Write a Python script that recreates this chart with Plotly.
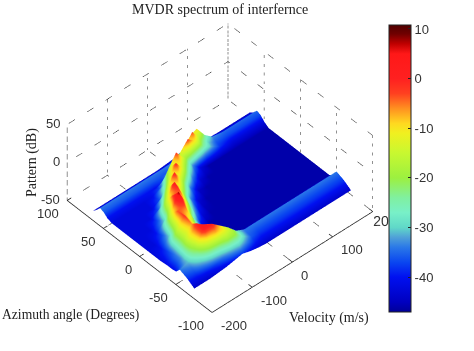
import plotly.graph_objects as go

velocity = [-190,-170,-150,-130,-110,-90,-70,-50,-30,-10,10,30,50,70,90,120,160,200]
azimuth = [70,65,60,55,50,44,33,24,13,5,-4,-13,-23,-33,-40,-45,-50,-55,-60,-65,-70]
pattern_db = [
 [-45,-45,-45,-45,-45,-45,-45,-45,-45,-44,-43,-40,-30,-38,-44,-45,-45,-45],
 [-40,-40,-40,-40,-40,-40,-40,-40,-40,-40,-37,-30,-18,-27,-38,-41,-41,-41],
 [-34,-34,-34,-34,-34,-34,-34,-34,-34,-33,-29,-16,-9,-24,-33,-35,-35,-35],
 [-36,-36,-36,-36,-36,-36,-36,-36,-36,-31,-17,-3,-19,-30,-36,-37,-37,-37],
 [-40,-40,-40,-40,-40,-40,-40,-38,-28,-14,-2,-12,-25,-32,-38,-42,-42,-42],
 [-42,-42,-42,-42,-42,-41,-36,-18,-2,-16,-32,-42,-46,-46,-46,-46,-46,-46],
 [-42,-42,-42,-42,-42,-36,-18,-1,-17,-33,-43,-46,-46,-46,-46,-46,-46,-46],
 [-42,-42,-42,-42,-36,-18,0,-18,-34,-44,-46,-46,-46,-46,-46,-46,-46,-46],
 [-42,-42,-42,-36,-16,2,-17,-33,-43,-46,-46,-46,-46,-46,-46,-46,-46,-46],
 [-42,-42,-40,-30,-4,-4,-25,-38,-45,-46,-46,-46,-46,-46,-46,-46,-46,-46],
 [-42,-42,-36,-14,8,-14,-32,-43,-46,-46,-46,-46,-46,-46,-46,-46,-46,-46],
 [-42,-40,-30,-4,-4,-26,-40,-46,-46,-46,-46,-46,-46,-46,-46,-46,-46,-46],
 [-42,-37,-18,-2,-16,-32,-44,-46,-46,-46,-46,-46,-46,-46,-46,-46,-46,-46],
 [-41,-34,-17,-6,-18,-30,-42,-46,-46,-46,-46,-46,-46,-46,-46,-46,-46,-46],
 [-41,-33,-14,0,-10,-20,-30,-42,-46,-46,-46,-46,-46,-46,-46,-46,-46,-46],
 [-40,-31,-16,2,-4,-14,-24,-34,-41,-42,-42,-42,-42,-42,-42,-42,-42,-42],
 [-34,-31,-20,3,0,-9,-18,-29,-34,-34,-34,-34,-34,-34,-34,-34,-34,-34],
 [-36,-34,-26,-13,-7,-11,-17,-28,-35,-36,-36,-36,-36,-36,-36,-36,-36,-36],
 [-38,-37,-33,-27,-24,-18,-20,-29,-36,-38,-38,-38,-38,-38,-38,-38,-38,-38],
 [-41,-41,-40,-38,-35,-31,-29,-34,-39,-41,-41,-41,-41,-41,-41,-41,-41,-41],
 [-44,-44,-44,-43,-42,-40,-38,-41,-43,-44,-44,-44,-44,-44,-44,-44,-44,-44],
]

vel_ticks = [-200,-100,0,100,200]
az_ticks = [-100,-50,0,50,100]
z_ticks = [-50,0,50]
cbar_ticks = [-40,-30,-20,-10,0,10]
cbar_labels = ["-40","-30","-20","-10","0","10"]
cmin, cmax = -47, 10.8

color_values = [-47,-45,-40,-37,-34,-32,-30,-27,-24,-20,-15,-11,-9,-6,-3,0,5,7,9,10.8]
color_hex = ["#000098","#0000c0","#0010f0","#0a46f0","#2a78e8","#4fa0d8","#60d8c8","#78f0c8","#80f0a0",
             "#9cf040","#c8f830","#f0f020","#ffd820","#ff9020","#ff4020","#ff2020","#ff1818","#c00000","#700000","#500000"]
colorscale = [[(v-cmin)/(cmax-cmin), c] for v, c in zip(color_values, color_hex)]

fig = go.Figure()
fig.add_trace(go.Surface(
    x=velocity, y=azimuth, z=pattern_db, cmin=cmin, cmax=cmax, colorscale=colorscale,
    lighting=dict(ambient=1, diffuse=0, specular=0, roughness=1, fresnel=0),
    hoverinfo="skip", contours=dict(x=dict(highlight=False), y=dict(highlight=False), z=dict(highlight=False)),
    colorbar=dict(x=389/474, xanchor="left", xpad=0, y=(351-312)/351, yanchor="bottom", ypad=0,
                  lenmode="fraction", len=287/351, thickness=22, thicknessmode="pixels",
                  outlinecolor="#222", outlinewidth=1, ticks="inside", ticklen=3, tickcolor="#222",
                  tickvals=cbar_ticks, ticktext=cbar_labels, tickfont=dict(family="Liberation Sans", size=13, color="#333")),
))

vmin, vmax = vel_ticks[0], vel_ticks[-1]
amin, amax = az_ticks[0], az_ticks[-1]
zmin, zmax = z_ticks[0], z_ticks[-1]

gx, gy, gz = [], [], []
def seg(p, q):
    gx.extend([p[0], q[0], None]); gy.extend([p[1], q[1], None]); gz.extend([p[2], q[2], None])
for v in vel_ticks:
    seg((v, amax, zmin), (v, amax, zmax))
    if vmin < v < vmax:
        seg((v, amin, zmin), (v, amax, zmin))
for a in az_ticks:
    seg((vmax, a, zmin), (vmax, a, zmax))
    if amin < a < amax:
        seg((vmin, a, zmin), (vmax, a, zmin))
for z in z_ticks:
    seg((vmin, amax, z), (vmax, amax, z))
    seg((vmax, amax, z), (vmax, amin, z))
seg((vmin, amax, zmin), (vmin, amax, zmax))
fig.add_trace(go.Scatter3d(x=gx, y=gy, z=gz, mode="lines", line=dict(color="#222", width=1, dash="dot"),
                           hoverinfo="skip", showlegend=False))

ax_x, ax_y, ax_z = [], [], []
def aseg(p, q):
    ax_x.extend([p[0], q[0], None]); ax_y.extend([p[1], q[1], None]); ax_z.extend([p[2], q[2], None])
aseg((vmin, amax, zmin), (vmin, amin, zmin))
aseg((vmin, amin, zmin), (vmax, amin, zmin))
for v in vel_ticks:
    aseg((v, amin, zmin), (v, amin+5, zmin))
for a in az_ticks:
    aseg((vmin, a, zmin), (vmin+10, a, zmin))
fig.add_trace(go.Scatter3d(x=ax_x, y=ax_y, z=ax_z, mode="lines", line=dict(color="#222", width=1.5),
                           hoverinfo="skip", showlegend=False))

tick_font = dict(family="Liberation Sans", size=13, color="#333")
scene_ann = []
for v in vel_ticks[:-1]:
    scene_ann.append(dict(x=v, y=amin, z=zmin, text=str(v), showarrow=False, xanchor="left", yanchor="middle",
                          xshift=6.5, yshift=-13, font=tick_font))
for a in az_ticks:
    scene_ann.append(dict(x=vmin, y=a, z=zmin, text=str(a), showarrow=False, xanchor="right", yanchor="middle",
                          xshift=-6, yshift=-13, font=tick_font))
for z in z_ticks:
    scene_ann.append(dict(x=vmin, y=amax, z=z, text=str(z), showarrow=False, xanchor="right", yanchor="middle",
                          xshift=-5, yshift=1, font=tick_font))

hidden = dict(showgrid=False, zeroline=False, showticklabels=False, showbackground=False, showline=False,
              ticks="", title=dict(text=""), showspikes=False)
xaxis_style = dict(hidden)
# the last velocity label is a native WebGL tick so the colorbar covers its end, as in the reference
xaxis_style.update(showticklabels=True, tickmode="array", tickvals=[vel_ticks[-1]], ticktext=[str(vel_ticks[-1])],
                   tickfont=tick_font, tickangle=0)
eye_dir = (-0.48, -0.533, 0.697)
eye_r = 1.56
label_font = dict(size=14)
fig.update_layout(
    width=474, height=351, margin=dict(l=0, r=0, t=0, b=0), paper_bgcolor="white",
    font=dict(family="Liberation Serif", color="#222"),
    scene=dict(
        domain=dict(x=[0, 440/474], y=[1-336/351, 1]),
        xaxis=dict(range=[vmin, vmax], **xaxis_style),
        yaxis=dict(range=[amin, amax], **hidden),
        zaxis=dict(range=[zmin, zmax], **hidden),
        aspectmode="manual", aspectratio=dict(x=1.288, y=1.288, z=0.631),
        camera=dict(projection=dict(type="orthographic"),
                    eye=dict(x=eye_dir[0]*eye_r, y=eye_dir[1]*eye_r, z=eye_dir[2]*eye_r),
                    up=dict(x=0, y=0, z=1), center=dict(x=0, y=0, z=0)),
        annotations=scene_ann,
    ),
    annotations=[
        dict(text="MVDR spectrum of interfernce", x=220/474, y=1-10/351, xref="paper", yref="paper", showarrow=False,
             yanchor="middle", xanchor="center", font=label_font),
        dict(text="Azimuth angle (Degrees)", x=70/474, y=1-315/351, xref="paper", yref="paper", showarrow=False,
             yanchor="middle", xanchor="center", font=dict(size=13.6)),
        dict(text="Velocity (m/s)", x=329/474, y=1-318/351, xref="paper", yref="paper", showarrow=False,
             yanchor="middle", xanchor="center", font=label_font),
        dict(text="Pattern (dB)", x=32/474, y=1-162/351, xref="paper", yref="paper", showarrow=False, textangle=-90,
             yanchor="middle", xanchor="center", font=label_font),
    ],
)
fig.write_html("out.html", post_script="document.body.style.margin='0';", config=dict(displayModeBar=False))
